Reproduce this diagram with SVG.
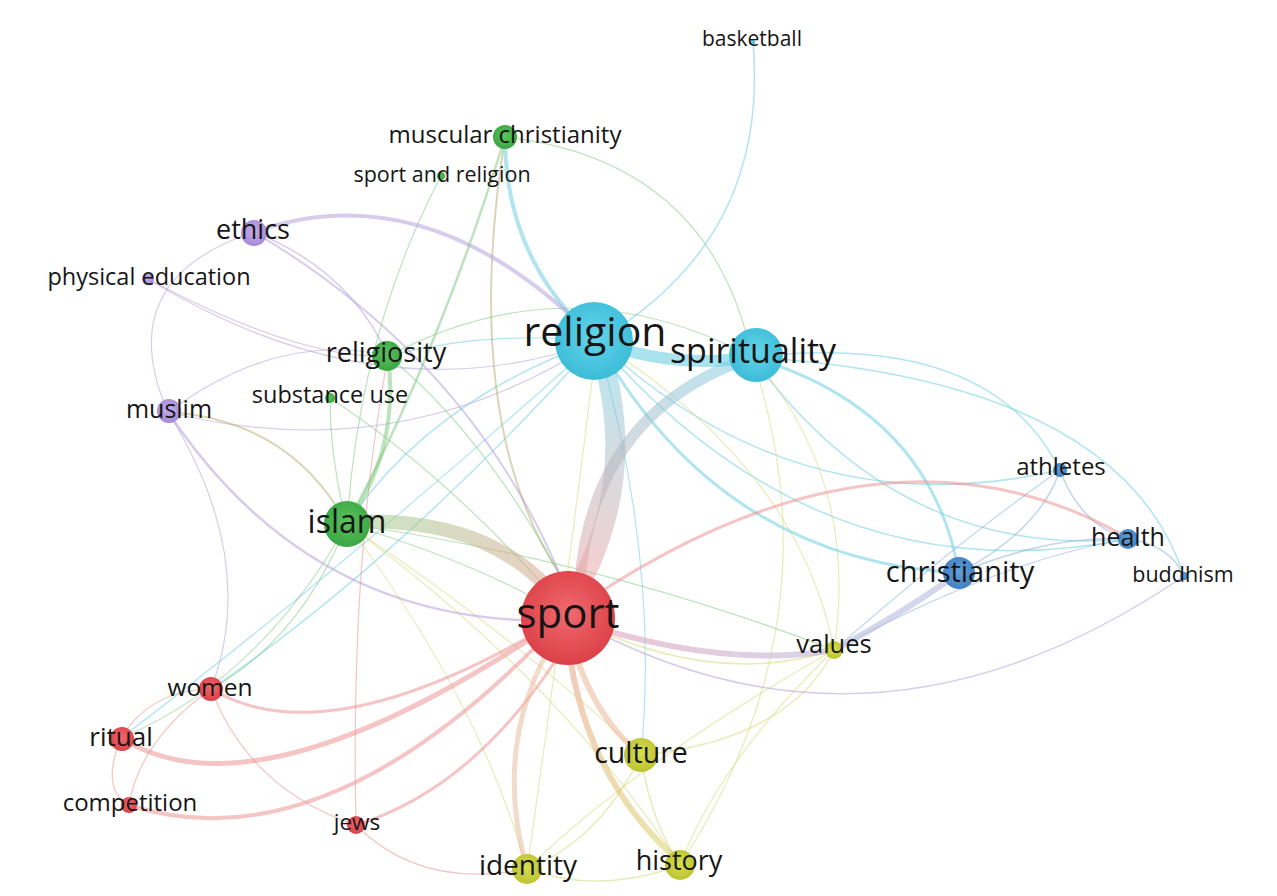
<svg xmlns="http://www.w3.org/2000/svg" width="1277" height="896" viewBox="0 0 1277 896">
<defs>
<style>
.e{fill:none;stroke-linecap:round}
.c{stroke:#6fcfe4;opacity:.55}
.r{stroke:#ec8a8a;opacity:.5}
.g{stroke:#7cc87c;opacity:.5}
.p{stroke:#b4a2da;opacity:.55}
.b{stroke:#8fb2dc;opacity:.55}
.y{stroke:#d3dc7c;opacity:.55}
.o{stroke:#b8b47a;opacity:.55}
.lbl{font-family:"Open Sans","Liberation Sans",sans-serif;fill:#161616;text-anchor:middle}
</style>
<radialGradient id="nR" cx="50%" cy="45%" r="55%"><stop offset="0" stop-color="#f06a6e"/><stop offset="1" stop-color="#dc4048"/></radialGradient>
<radialGradient id="nC" cx="50%" cy="45%" r="55%"><stop offset="0" stop-color="#63d4ea"/><stop offset="1" stop-color="#3cbcd8"/></radialGradient>
<radialGradient id="nG" cx="50%" cy="45%" r="55%"><stop offset="0" stop-color="#5cc25c"/><stop offset="1" stop-color="#3aa644"/></radialGradient>
<radialGradient id="nP" cx="50%" cy="45%" r="55%"><stop offset="0" stop-color="#c4ade9"/><stop offset="1" stop-color="#a68ad8"/></radialGradient>
<radialGradient id="nB" cx="50%" cy="45%" r="55%"><stop offset="0" stop-color="#62a0da"/><stop offset="1" stop-color="#4080c4"/></radialGradient>
<radialGradient id="nY" cx="50%" cy="45%" r="55%"><stop offset="0" stop-color="#d6de50"/><stop offset="1" stop-color="#bcc432"/></radialGradient>
<linearGradient id="gRS" gradientUnits="userSpaceOnUse" x1="597" y1="341" x2="585" y2="575"><stop offset="0" stop-color="#6fd0e6"/><stop offset="1" stop-color="#e8a0a0"/></linearGradient>
<linearGradient id="gSS" gradientUnits="userSpaceOnUse" x1="752" y1="357" x2="580" y2="580"><stop offset="0" stop-color="#7cd0e4"/><stop offset="1" stop-color="#e4a8a8"/></linearGradient>
<linearGradient id="gIS" gradientUnits="userSpaceOnUse" x1="347" y1="522" x2="548" y2="588"><stop offset="0" stop-color="#9cd08c"/><stop offset="1" stop-color="#d8a890"/></linearGradient>
<linearGradient id="gSV" gradientUnits="userSpaceOnUse" x1="566" y1="618" x2="834" y2="650"><stop offset="0" stop-color="#e4a0b0"/><stop offset="1" stop-color="#c0b4dc"/></linearGradient>
<linearGradient id="gSC" gradientUnits="userSpaceOnUse" x1="566" y1="618" x2="680" y2="862"><stop offset="0" stop-color="#eca090"/><stop offset="1" stop-color="#dcd870"/></linearGradient>
</defs>
<rect width="1277" height="896" fill="#ffffff"/>
<g id="connectors">
<!-- thin lines -->
<path class="e c" stroke-width="1.5" d="M597,341 Q770,240 753,42"/>
<path class="e c" stroke-width="1.5" d="M597,341 Q800,530 1060,470"/>
<path class="e c" stroke-width="1.5" d="M597,341 Q820,600 1128,539"/>
<path class="e c" stroke-width="1.5" d="M752,357 Q990,330 1060,470"/>
<path class="e c" stroke-width="1.5" d="M752,357 Q900,560 1128,539"/>
<path class="e c" stroke-width="1.5" d="M752,357 Q1120,380 1184,576"/>
<path class="e c" stroke-width="1.5" d="M597,341 Q430,400 347,524"/>
<path class="e c" stroke-width="1.5" d="M597,341 Q400,560 211,689"/>
<path class="e c" stroke-width="1.2" d="M597,341 Q490,330 388,356"/>
<path class="e p" stroke-width="1.2" d="M168,412 Q400,470 597,341"/>
<path class="e p" stroke-width="1.2" d="M148,279 Q380,420 597,341"/>
<path class="e g" stroke-width="1.2" d="M388,356 Q570,260 752,357"/>
<path class="e g" stroke-width="1.2" d="M505,137 Q710,160 752,357"/>
<path class="e y" stroke-width="1.2" d="M597,341 Q800,470 834,650"/>
<path class="e y" stroke-width="1.2" d="M752,357 Q860,480 834,650"/>
<path class="e c" stroke-width="1.2" d="M597,341 Q660,560 641,755"/>
<path class="e y" stroke-width="1.2" d="M752,357 Q840,620 680,865"/>
<path class="e c" stroke-width="1.2" d="M597,341 Q330,580 121,738"/>
<path class="e y" stroke-width="1.2" d="M597,341 Q560,640 527,869"/>
<path class="e g" stroke-width="1.2" d="M441,176 Q360,330 347,524"/>
<path class="e g" stroke-width="2.5" d="M505,137 Q440,350 347,524"/>
<path class="e o" stroke-width="2" d="M505,137 Q460,420 560,575"/>
<path class="e g" stroke-width="1.2" d="M347,524 Q330,460 330,398"/>
<path class="e g" stroke-width="1.2" d="M388,356 Q480,430 560,575"/>
<path class="e p" stroke-width="1.2" d="M168,412 Q280,330 388,356"/>
<path class="e g" stroke-width="1.2" d="M330,398 Q440,470 548,590"/>
<path class="e g" stroke-width="1.2" d="M347,524 Q300,640 211,689"/>
<path class="e g" stroke-width="1.2" d="M347,524 Q260,680 121,738"/>
<path class="e y" stroke-width="1.2" d="M347,524 Q520,640 641,755"/>
<path class="e y" stroke-width="1.2" d="M347,524 Q480,700 527,869"/>
<path class="e g" stroke-width="1.2" d="M347,524 Q600,560 834,650"/>
<path class="e y" stroke-width="1.2" d="M347,524 Q560,680 680,865"/>
<path class="e p" stroke-width="2" d="M254,232 Q470,360 560,575"/>
<path class="e p" stroke-width="1.5" d="M254,232 Q350,270 388,356"/>
<path class="e p" stroke-width="1.2" d="M254,232 Q110,280 168,412"/>
<path class="e p" stroke-width="1.2" d="M148,279 Q300,360 388,356"/>
<path class="e p" stroke-width="2.5" d="M168,412 Q300,610 520,620"/>
<path class="e o" stroke-width="2" d="M168,412 Q290,420 347,524"/>
<path class="e p" stroke-width="1.2" d="M168,412 Q260,560 211,689"/>
<path class="e r" stroke-width="1.2" d="M211,689 Q150,690 121,738"/>
<path class="e r" stroke-width="1.2" d="M211,689 Q140,740 129,805"/>
<path class="e r" stroke-width="1.2" d="M121,738 Q100,790 129,805"/>
<path class="e r" stroke-width="1.2" d="M211,689 Q250,790 356,825"/>
<path class="e r" stroke-width="1.2" d="M356,825 Q350,560 388,356"/>
<path class="e r" stroke-width="1.2" d="M356,825 Q420,890 527,869"/>
<path class="e y" stroke-width="1.5" d="M834,650 Q790,740 641,755"/>
<path class="e y" stroke-width="1.2" d="M834,650 Q640,760 527,869"/>
<path class="e y" stroke-width="1.2" d="M834,650 Q720,760 680,865"/>
<path class="e b" stroke-width="1.2" d="M834,650 Q960,540 1060,470"/>
<path class="e b" stroke-width="1.2" d="M834,650 Q1000,560 1128,539"/>
<path class="e y" stroke-width="1.5" d="M641,755 Q600,840 527,869"/>
<path class="e y" stroke-width="1.5" d="M641,755 Q650,820 680,865"/>
<path class="e y" stroke-width="1.5" d="M527,869 Q600,895 680,865"/>
<path class="e y" stroke-width="1.5" d="M566,615 Q710,690 834,650"/>
<path class="e g" stroke-width="1.2" d="M347,524 Q470,560 566,615"/>
<path class="e b" stroke-width="1.5" d="M959,573 Q1040,530 1060,470"/>
<path class="e b" stroke-width="1.5" d="M959,573 Q1050,535 1128,539"/>
<path class="e b" stroke-width="1.5" d="M1060,470 Q1080,525 1128,539"/>
<path class="e b" stroke-width="1.5" d="M1128,539 Q1170,545 1184,576"/>
<path class="e p" stroke-width="1.5" d="M566,615 Q870,790 1184,576"/>
<!-- medium lines -->
<path class="e c" stroke-width="3" d="M597,341 Q720,560 959,573"/>
<path class="e c" stroke-width="3" d="M752,357 Q930,410 959,573"/>
<path class="e c" stroke-width="4" d="M505,137 Q505,260 597,341"/>
<path class="e p" stroke-width="4" d="M254,232 Q430,170 597,341"/>
<path class="e g" stroke-width="4" d="M347,524 Q400,450 388,356"/>
<path class="e r" stroke-width="3" d="M566,615 Q880,395 1128,538"/>
<path class="e r" stroke-width="3" d="M211,689 Q330,760 566,615"/>
<path class="e r" stroke-width="4" d="M129,805 Q330,870 566,615"/>
<path class="e r" stroke-width="3" d="M356,825 Q470,790 556,660"/>
<path class="e r" stroke-width="5" d="M121,738 Q260,825 566,615"/>
<path class="e r" stroke-width="5" d="M560,630 Q490,740 527,869" style="stroke:#e8b898"/>
<path class="e r" stroke-width="6" d="M566,618 Q585,710 641,755" style="stroke:#eab090"/>
<path class="e" stroke-width="6" opacity=".6" stroke="url(#gSC)" d="M566,618 Q575,770 680,862"/>
<path class="e" stroke-width="6" opacity=".6" stroke="url(#gSV)" d="M566,618 Q720,670 834,650"/>
<path class="e" stroke-width="6" opacity=".6" stroke="#b8bce0" d="M834,650 Q900,615 959,573"/>
<!-- thick bands -->
<path class="e" stroke-width="14" opacity=".55" stroke="url(#gIS)" d="M347,522 Q480,515 548,588"/>
<path class="e" stroke-width="11" opacity=".55" stroke="url(#gSS)" d="M752,357 Q594,411 580,580"/>
<path class="e" stroke-width="20" opacity=".5" stroke="url(#gRS)" d="M597,341 Q639,462 585,575"/>
<path class="e" stroke-width="12" opacity=".6" stroke="#6fd0e6" d="M597,341 Q675,370 752,357"/>
</g>
<g id="node-basketball"><circle cx="752" cy="42" r="3" fill="url(#nC)"/><text class="lbl" x="752" y="46" font-size="21">basketball</text></g>
<g id="node-muscular-christianity"><circle cx="505" cy="137" r="12" fill="url(#nG)"/><text class="lbl" x="505" y="143" font-size="24">muscular christianity</text></g>
<g id="node-sport-and-religion"><circle cx="441" cy="176" r="4" fill="url(#nG)"/><text class="lbl" x="442" y="182" font-size="21.5">sport and religion</text></g>
<g id="node-ethics"><circle cx="254" cy="233" r="13" fill="url(#nP)"/><text class="lbl" x="253" y="239" font-size="27">ethics</text></g>
<g id="node-physical-education"><circle cx="148" cy="279" r="6" fill="url(#nP)"/><text class="lbl" x="149" y="285" font-size="23.5">physical education</text></g>
<g id="node-religiosity"><circle cx="387" cy="356" r="15" fill="url(#nG)"/><text class="lbl" x="386" y="362" font-size="27">religiosity</text></g>
<g id="node-substance-use"><circle cx="330" cy="398" r="5" fill="url(#nG)"/><text class="lbl" x="330" y="403" font-size="23.5">substance use</text></g>
<g id="node-muslim"><circle cx="169" cy="411" r="12" fill="url(#nP)"/><text class="lbl" x="169" y="418" font-size="25">muslim</text></g>
<g id="node-religion"><circle cx="594" cy="341" r="39" fill="url(#nC)"/><text class="lbl" x="595" y="346" font-size="41">religion</text></g>
<g id="node-spirituality"><circle cx="756" cy="355" r="27" fill="url(#nC)"/><text class="lbl" x="753" y="363" font-size="34">spirituality</text></g>
<g id="node-islam"><circle cx="347" cy="524" r="23" fill="url(#nG)"/><text class="lbl" x="347" y="533" font-size="32">islam</text></g>
<g id="node-athletes"><circle cx="1060" cy="470" r="7" fill="url(#nB)"/><text class="lbl" x="1061" y="475" font-size="24">athletes</text></g>
<g id="node-health"><circle cx="1128" cy="539" r="10" fill="url(#nB)"/><text class="lbl" x="1128" y="546" font-size="25">health</text></g>
<g id="node-buddhism"><circle cx="1184" cy="576" r="4" fill="url(#nB)"/><text class="lbl" x="1183" y="582" font-size="21.5">buddhism</text></g>
<g id="node-christianity"><circle cx="959" cy="573" r="16" fill="url(#nB)"/><text class="lbl" x="960" y="582" font-size="29">christianity</text></g>
<g id="node-values"><circle cx="834" cy="650" r="9" fill="url(#nY)"/><text class="lbl" x="834" y="653" font-size="25.5">values</text></g>
<g id="node-sport"><circle cx="568" cy="618" r="47" fill="url(#nR)"/><text class="lbl" x="568" y="628" font-size="42">sport</text></g>
<g id="node-women"><circle cx="211" cy="689" r="12" fill="url(#nR)"/><text class="lbl" x="210" y="696" font-size="24.5">women</text></g>
<g id="node-ritual"><circle cx="122" cy="739" r="12" fill="url(#nR)"/><text class="lbl" x="121" y="746" font-size="26">ritual</text></g>
<g id="node-competition"><circle cx="129" cy="805" r="8" fill="url(#nR)"/><text class="lbl" x="130" y="811" font-size="24">competition</text></g>
<g id="node-jews"><circle cx="356" cy="825" r="9" fill="url(#nR)"/><text class="lbl" x="357" y="830" font-size="22.5">jews</text></g>
<g id="node-culture"><circle cx="641" cy="755" r="17" fill="url(#nY)"/><text class="lbl" x="641" y="763" font-size="28.5">culture</text></g>
<g id="node-identity"><circle cx="527" cy="869" r="15" fill="url(#nY)"/><text class="lbl" x="528" y="875" font-size="28">identity</text></g>
<g id="node-history"><circle cx="680" cy="865" r="15" fill="url(#nY)"/><text class="lbl" x="679" y="870" font-size="27">history</text></g>
</svg>
